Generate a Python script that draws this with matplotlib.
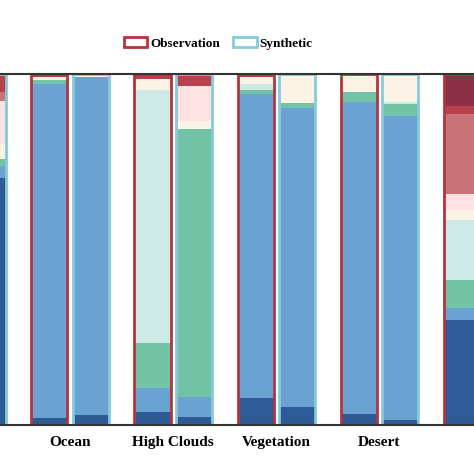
import matplotlib
matplotlib.use("Agg")
import matplotlib.pyplot as plt
import numpy as np
from matplotlib.patches import Patch

plt.rcParams['font.family'] = ['Liberation Serif', 'DejaVu Serif']

categories = ["Clouds", "Ocean", "High Clouds", "Vegetation", "Desert", "Snow"]
layer_colors = ["#2e5b96", "#6aa3d1", "#72c3a6", "#cfeae6", "#fcf3e7",
                "#fde1e3", "#c8727a", "#b9414b", "#8a3049"]
# fractions per layer (bottom to top), one value per category
obs = [
    [0.60, 0.020, 0.038, 0.076, 0.033, 0.300],
    [0.08, 0.952, 0.067, 0.867, 0.888, 0.033],
    [0.03, 0.010, 0.129, 0.010, 0.027, 0.081],
    [0.10, 0.000, 0.719, 0.019, 0.000, 0.171],
    [0.05, 0.010, 0.033, 0.019, 0.052, 0.029],
    [0.08, 0.000, 0.000, 0.000, 0.000, 0.043],
    [0.02, 0.000, 0.000, 0.000, 0.000, 0.229],
    [0.04, 0.008, 0.014, 0.010, 0.000, 0.024],
    [0.00, 0.000, 0.000, 0.000, 0.000, 0.090],
]
syn = [
    [0.705, 0.029, 0.024, 0.052, 0.014, 0.30],
    [0.033, 0.961, 0.057, 0.852, 0.867, 0.03],
    [0.019, 0.000, 0.762, 0.014, 0.033, 0.08],
    [0.000, 0.000, 0.000, 0.000, 0.005, 0.17],
    [0.043, 0.010, 0.024, 0.081, 0.081, 0.03],
    [0.124, 0.000, 0.100, 0.000, 0.000, 0.05],
    [0.024, 0.000, 0.000, 0.000, 0.000, 0.22],
    [0.052, 0.000, 0.033, 0.000, 0.000, 0.03],
    [0.000, 0.000, 0.000, 0.000, 0.000, 0.09],
]
series_labels = ["Observation", "Synthetic"]
edge_colors = ["#b5343c", "#86cbd9"]

fig = plt.figure(figsize=(4.74, 4.74), dpi=100)
ax = fig.add_axes([0, 0.103, 1, 0.741])
x = np.arange(len(categories))
w = 0.35
for data, off, ec in [(obs, -0.2, edge_colors[0]), (syn, 0.2, edge_colors[1])]:
    bottom = np.zeros(len(categories))
    for vals, c in zip(data, layer_colors):
        vals = np.array(vals)
        ax.bar(x + off, vals, w, bottom=bottom, color=c, linewidth=0)
        bottom += vals
    ax.bar(x + off, bottom, w, fill=False, edgecolor=ec, linewidth=2)

ax.set_yticks([])
ax.set_xticks(x)
ax.set_xticklabels(categories, fontsize=11, fontweight='bold')
ax.set_xlim(0.32, 4.92)
ax.set_ylim(0, 1)
ax.tick_params(axis='x', length=0, pad=8)
for s in ['left', 'right']:
    ax.spines[s].set_visible(False)
for s in ['top', 'bottom']:
    ax.spines[s].set_color('#333333')
    ax.spines[s].set_linewidth(1.5)

handles = [Patch(facecolor='white', edgecolor=ec, linewidth=2, label=l)
           for l, ec in zip(series_labels, edge_colors)]
fig.legend(handles=handles, loc='center', bbox_to_anchor=(0.46, 0.908), ncol=2,
           frameon=False, prop={'weight': 'bold', 'size': 9.5},
           handlelength=1.8, handletextpad=0.2, columnspacing=1.0)
fig.savefig("out.png", dpi=100)
